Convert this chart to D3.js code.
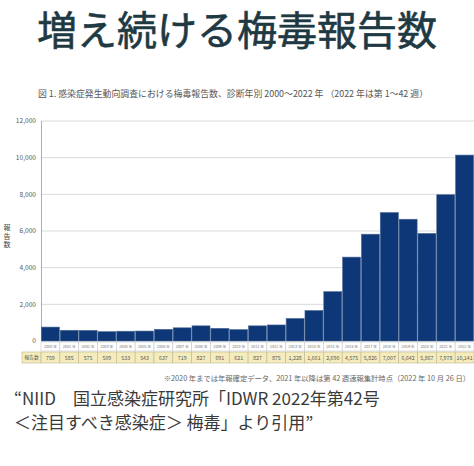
<!DOCTYPE html>
<html>
<head>
<meta charset="utf-8">
<script src="https://cdn.jsdelivr.net/npm/d3@7"></script>
<style>
  body { margin: 0; background: #fff; }
  svg { display: block; font-family: "Noto Sans CJK JP", "Noto Sans", sans-serif; }
</style>
</head>
<body>
<div id="chart"></div>
<script>
// years and reported syphilis cases (2022 = weeks 1-42)
var years = ["2000", "2001", "2002", "2003", "2004", "2005", "2006", "2007", "2008", "2009", "2010", "2011",
             "2012", "2013", "2014", "2015", "2016", "2017", "2018", "2019", "2020", "2021", "2022"];
var cases = [759, 585, 575, 509, 533, 543, 637, 719, 827, 691, 621, 827,
             875, 1228, 1661, 2690, 4575, 5826, 7007, 6642, 5867, 7978, 10141];
var yTicks = [0, 2000, 4000, 6000, 8000, 10000, 12000];

var width = 474, height = 466;
var margin = { top: 121, right: 0, bottom: 125, left: 41 };

var svg = d3.select("#chart").append("svg")
    .attr("width", width)
    .attr("height", height);

// big heading
svg.append("text")
    .attr("x", width / 2)
    .attr("y", 45)
    .attr("text-anchor", "middle")
    .attr("font-size", 40)
    .attr("font-weight", 400)
    .attr("fill", "#1f3943")
    .attr("stroke", "#1f3943")
    .attr("stroke-width", 0.6)
    .text("増え続ける梅毒報告数");

// figure caption
svg.append("text")
    .attr("x", 233)
    .attr("y", 97)
    .attr("text-anchor", "middle")
    .attr("font-size", 8.9)
    .attr("fill", "#555")
    .text("図 1. 感染症発生動向調査における梅毒報告数、診断年別  2000～2022 年 （2022 年は第 1～42 週）");

var x = d3.scaleBand()
    .domain(years)
    .range([margin.left, width - margin.right])
    .padding(0);

var y = d3.scaleLinear()
    .domain([0, 12000])
    .range([height - margin.bottom - 0, margin.top]);

// gridlines
svg.append("g")
    .selectAll("line")
    .data(yTicks)
    .enter()
    .append("line")
    .attr("x1", margin.left)
    .attr("x2", width)
    .attr("y1", function (d) { return y(d); })
    .attr("y2", function (d) { return y(d); })
    .attr("stroke", "#cfcfcf")
    .attr("stroke-width", 0.8);

// y tick labels
svg.append("g")
    .selectAll("text")
    .data(yTicks)
    .enter()
    .append("text")
    .attr("x", 36)
    .attr("y", function (d) { return y(d) + 2.3; })
    .attr("text-anchor", "end")
    .attr("font-size", 6.6)
    .attr("fill", "#555")
    .text(function (d) { return d3.format(",")(d); });

// left axis line
svg.append("line")
    .attr("x1", margin.left + 0.5)
    .attr("x2", margin.left + 0.5)
    .attr("y1", margin.top)
    .attr("y2", y(0))
    .attr("stroke", "#9a9a9a")
    .attr("stroke-width", 0.8);

// vertical y label
svg.append("g")
    .selectAll("text")
    .data(["報", "告", "数"])
    .enter()
    .append("text")
    .attr("x", 7)
    .attr("y", function (d, i) { return 230 + i * 8.5; })
    .attr("text-anchor", "middle")
    .attr("font-size", 7)
    .attr("fill", "#444")
    .text(function (d) { return d; });

// bars
svg.append("g")
    .selectAll("rect")
    .data(cases)
    .enter()
    .append("rect")
    .attr("x", function (d, i) { return x(years[i]) + 0.4; })
    .attr("y", function (d) { return y(d); })
    .attr("width", x.bandwidth() - 0.8)
    .attr("height", function (d) { return y(0) - y(d); })
    .attr("fill", "#0d3776")
    .attr("stroke", "#4a6894")
    .attr("stroke-width", 0.6);

// year row
var rowY = y(0) + 1;
var rowH = 9;
var yearRow = svg.append("g");
yearRow.selectAll("rect")
    .data(years)
    .enter()
    .append("rect")
    .attr("x", function (d) { return x(d); })
    .attr("y", rowY)
    .attr("width", x.bandwidth())
    .attr("height", rowH)
    .attr("fill", "#fff")
    .attr("stroke", "#c8c8c8")
    .attr("stroke-width", 0.6);
yearRow.selectAll("text")
    .data(years)
    .enter()
    .append("text")
    .attr("x", function (d) { return x(d) + x.bandwidth() / 2; })
    .attr("y", rowY + 6.2)
    .attr("text-anchor", "middle")
    .attr("font-size", 3.8)
    .attr("fill", "#777")
    .text(function (d) { return d + " 年"; });

// value row
var valY = rowY + rowH + 1;
var valH = 11;
var valRow = svg.append("g");
valRow.append("rect")
    .attr("x", 22)
    .attr("y", valY)
    .attr("width", margin.left - 22)
    .attr("height", valH)
    .attr("fill", "#f5ecbd")
    .attr("stroke", "#bdb78f")
    .attr("stroke-width", 0.6);
valRow.append("text")
    .attr("x", 31.5)
    .attr("y", valY + 7.3)
    .attr("text-anchor", "middle")
    .attr("font-size", 4.8)
    .attr("fill", "#555")
    .text("報告数");
valRow.selectAll("rect.v")
    .data(cases)
    .enter()
    .append("rect")
    .attr("class", "v")
    .attr("x", function (d, i) { return x(years[i]); })
    .attr("y", valY)
    .attr("width", x.bandwidth())
    .attr("height", valH)
    .attr("fill", "#f5ecbd")
    .attr("stroke", "#bdb78f")
    .attr("stroke-width", 0.6);
valRow.selectAll("text.v")
    .data(cases)
    .enter()
    .append("text")
    .attr("class", "v")
    .attr("x", function (d, i) { return x(years[i]) + x.bandwidth() / 2; })
    .attr("y", valY + 7.5)
    .attr("text-anchor", "middle")
    .attr("font-size", 5.3)
    .attr("fill", "#555")
    .text(function (d) { return d3.format(",")(d); });

// footnote
svg.append("text")
    .attr("x", 470)
    .attr("y", 381)
    .attr("text-anchor", "end")
    .attr("font-size", 7.3)
    .attr("fill", "#666")
    .text("※2020 年までは年報確定データ、2021 年以降は第 42 週速報集計時点（2022 年 10 月 26 日）");

// source citation
var cite = svg.append("g").attr("font-size", 17).attr("fill", "#3a3a3a");
cite.append("text")
    .attr("x", 14)
    .attr("y", 405)
    .text("“NIID　国立感染症研究所「IDWR 2022年第42号");
cite.append("text")
    .attr("x", 14)
    .attr("y", 429)
    .text("＜注目すべき感染症＞ 梅毒」より引用”");
</script>
</body>
</html>
